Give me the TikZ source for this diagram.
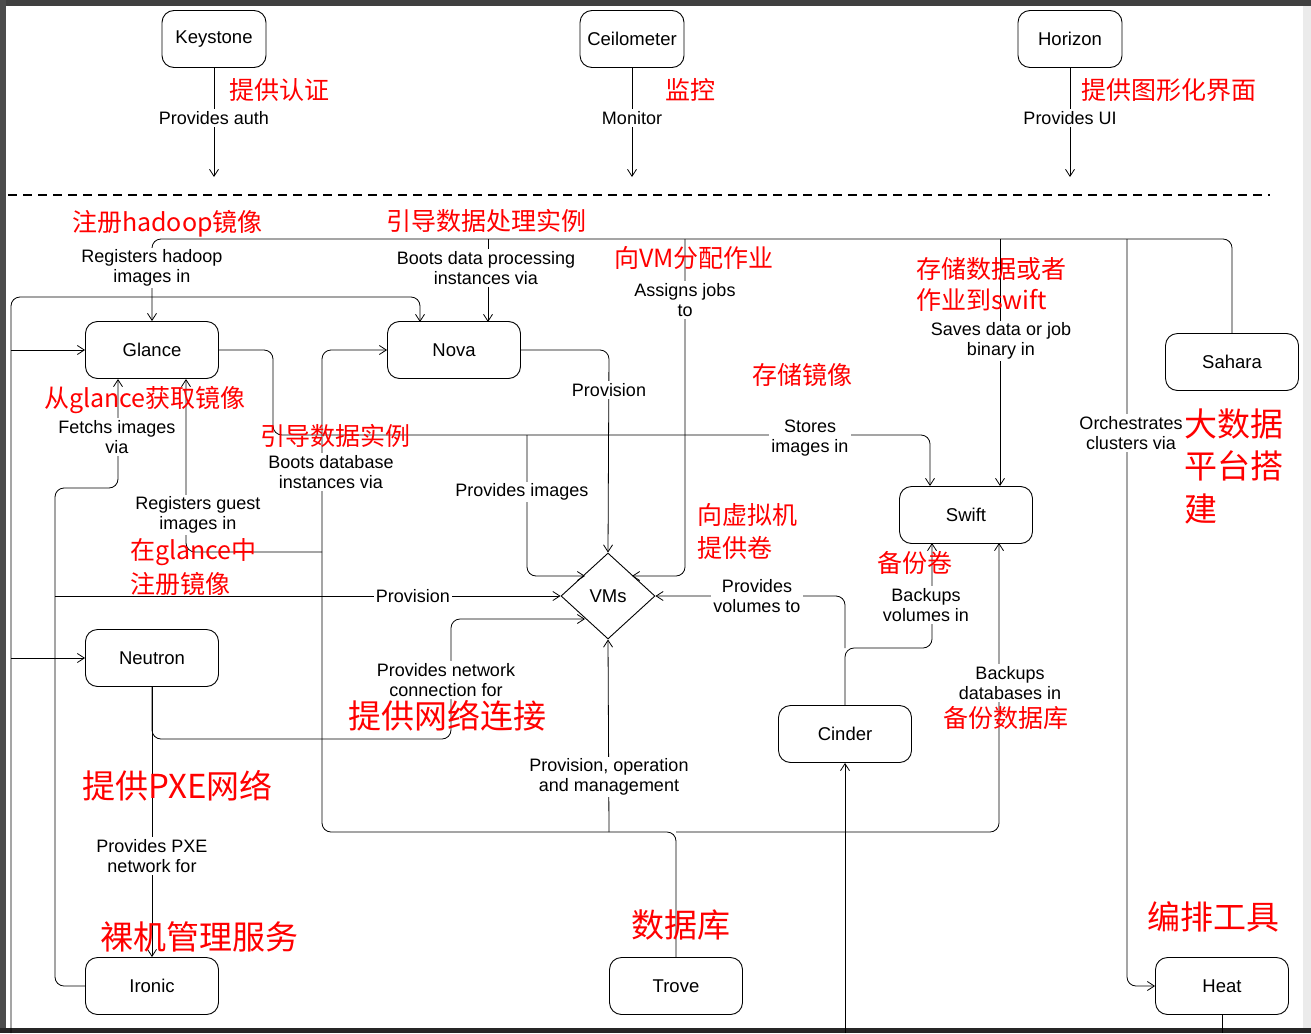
\documentclass[tikz,border=0pt]{standalone}
\usepackage{fontspec}
\setmainfont{Liberation Sans}
\newfontfamily\cjk{Noto Sans CJK SC}
\usetikzlibrary{arrows.meta,shapes.geometric}
\begin{document}
\begin{tikzpicture}[x=1pt,y=-1pt,
 box/.style={draw,rounded corners=12pt,minimum width=133pt,minimum height=57pt,font=\fontsize{18.5}{18}\selectfont,line width=0.9pt},
 tbox/.style={box,minimum width=104pt},
 lbl/.style={fill=white,align=center,font=\fontsize{18}{20}\selectfont,inner sep=2pt},
 cn/.style={text=red,anchor=west,font=\cjk\fontsize{25}{27}\selectfont,inner sep=0pt},
 cb/.style={cn,font=\cjk\fontsize{33}{35}\selectfont},
 ln/.style={draw,line width=0.8pt,rounded corners=9pt},
 ar/.style={ln,-{Straight Barb[length=7pt,width=9pt]}}]
\useasboundingbox (0,0) rectangle (1311,1033);
\fill[black!75] (0,0) rectangle (1311,6);
\fill[black!70] (0,0) rectangle (6,1033);
\fill[black!85] (0,1028) rectangle (1311,1033);
\fill[black!8] (1303,6) rectangle (1311,1028);
% top
\node[tbox] (ks) at (214,39) {Keystone};
\node[tbox] (ce) at (632,39) {Ceilometer};
\node[tbox] (ho) at (1070,39) {Horizon};
\coordinate (k1) at (214,177); \coordinate (c1) at (632,177); \coordinate (h1) at (1070,177);
\draw[ar] (ks) -- (k1); \draw[ar] (ce) -- (c1); \draw[ar] (ho) -- (h1);
\node[lbl] at (214,118) {Provides auth};
\node[lbl] at (632,118) {Monitor};
\node[lbl] at (1070,118) {Provides UI};
\coordinate (d1) at (8,195); \coordinate (d2) at (1270,195);
\draw[line width=2.2pt,dash pattern=on 9pt off 6pt] (d1) -- (d2);
% nodes
\node[box] (gl) at (152,350) {Glance};
\node[box] (no) at (454,350) {Nova};
\node[box] (sa) at (1232,362) {Sahara};
\node[box] (sw) at (966,515) {Swift};
\node[draw,diamond,aspect=1.1,minimum width=94pt,minimum height=86pt,inner sep=0pt,font=\fontsize{18.5}{18}\selectfont,line width=0.9pt] (vm) at (608,596) {VMs};
\node[box] (ne) at (152,658) {Neutron};
\node[box] (ci) at (845,734) {Cinder};
\node[box] (ir) at (152,986) {Ironic};
\node[box] (tr) at (676,986) {Trove};
\node[box] (he) at (1222,986) {Heat};
% Sahara
\draw[ar] (sa.north) |- (152,239) -- (gl.north);
\draw[ar] (488,239) -- (488,322);
\draw[ar] (685,239) -- (685,576) -- (632,576);
\draw[ar] (1000,239) -- (1000,486);
\draw[ar] (1127,239) -- (1127,986) -- (he.west);
% Heat bottom
\coordinate (hb) at (1222,1033);
\draw[ln] (he.south) -- (hb);
\coordinate (lb) at (11,1033);
\draw[ar] (lb) -- (11,297) -- (420,297) -- (420,322);
\draw[ar] (11,350) -- (gl.west);
\draw[ar] (11,658) -- (ne.west);
% Ironic
\draw[ar] (ir.west) -- (55,986) -- (55,488) -- (118,488) -- (118,379);
\draw[ar] (55,596) -- (vm.west);
% Glance right
\draw[ar] (gl.east) -- (273,350) -- (273,435) -- (930,435) -- (930,486);
\draw[ar] (527,435) -- (527,576) -- (585,576);
% Trove
\draw[ar] (tr.north) -- (676,832) -- (322,832) -- (322,350) -- (no.west);
\draw[ar] (322,552) -- (186,552) -- (186,379);
\draw[ar] (676,832) -- (999,832) -- (999,543);
\draw[ar] (609,832) -- (vm.south);
% Nova
\draw[ar] (no.east) -- (609,350) -- (vm.north);
% Neutron
\draw[ar] (ne.south) -- (152,739) -- (451,739) -- (451,619) -- (585,619);
\draw[ar] (ne.south) -- (ir.north);
% Cinder
\draw[ar] (ci.north) -- (845,648) -- (932,648) -- (932,543);
\draw[ar] (845,648) -- (845,596) -- (vm.east);
\coordinate (cb) at (845,1033);
\draw[ar] (cb) -- (ci.south);
% labels
\node[lbl] at (152,268) {Registers hadoop\\images in};
\node[lbl] at (486,268) {Boots data processing\\instances via};
\node[lbl] at (685,300) {Assigns jobs\\to};
\node[lbl] at (1001,341) {Saves data or job\\binary in};
\node[lbl] at (1131,433) {Orchestrates\\clusters via};
\node[lbl] at (609,390) {Provision};
\node[lbl] at (810,438) {Stores\\images in};
\node[lbl] at (117,437) {Fetchs images\\via};
\node[lbl] at (331,472) {Boots database\\instances via};
\node[lbl] at (522,492) {Provides images};
\node[lbl] at (198,515) {Registers guest\\images in};
\node[lbl] at (413,596) {Provision};
\node[lbl] at (757,596) {Provides\\volumes to};
\node[lbl] at (926,605) {Backups\\volumes in};
\node[lbl] at (446,680) {Provides network\\connection for};
\node[lbl] at (1010,683) {Backups\\databases in};
\node[lbl] at (609,777) {Provision, operation\\and management};
\node[lbl] at (152,856) {Provides PXE\\network for};
% chinese
\node[cn] at (229,90) {提供认证};
\node[cn] at (665,90) {监控};
\node[cn] at (1081,90) {提供图形化界面};
\node[cn] at (72,224) {注册hadoop镜像};
\node[cn] at (386,221) {引导数据处理实例};
\node[cn] at (614,258) {向VM分配作业};
\node[cn] at (916,269) {存储数据或者};
\node[cn] at (916,300) {作业到swift};
\node[cn] at (752,375) {存储镜像};
\node[cn] at (44,400) {从glance获取镜像};
\node[cn] at (260,436) {引导数据实例};
\node[cn] at (697,515) {向虚拟机};
\node[cn] at (697,548) {提供卷};
\node[cn] at (130,552) {在glance中};
\node[cn] at (130,584) {注册镜像};
\node[cn] at (877,563) {备份卷};
\node[cn] at (943,718) {备份数据库};
\node[cb] at (348,716) {提供网络连接};
\node[cb] at (82,786) {提供PXE网络};
\node[cb] at (100,937) {裸机管理服务};
\node[cb] at (631,925) {数据库};
\node[cb] at (1147,917) {编排工具};
\node[cb] at (1184,424) {大数据};
\node[cb] at (1184,466) {平台搭};
\node[cb] at (1184,509) {建};
\end{tikzpicture}
\end{document}
